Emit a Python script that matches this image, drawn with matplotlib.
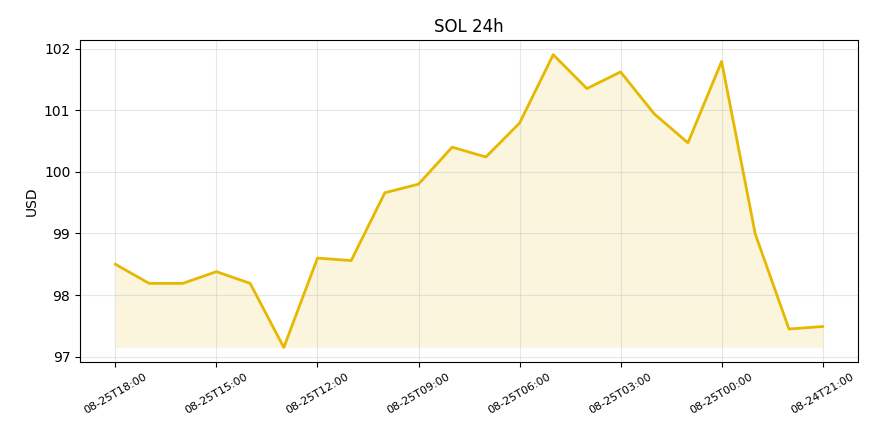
import matplotlib.pyplot as plt

# hourly timestamps, newest first
times = ['08-25T18:00', '08-25T17:00', '08-25T16:00', '08-25T15:00', '08-25T14:00',
         '08-25T13:00', '08-25T12:00', '08-25T11:00', '08-25T10:00', '08-25T09:00',
         '08-25T08:00', '08-25T07:00', '08-25T06:00', '08-25T05:00', '08-25T04:00',
         '08-25T03:00', '08-25T02:00', '08-25T01:00', '08-25T00:00', '08-24T23:00',
         '08-24T22:00', '08-24T21:00']
prices = [98.50, 98.19, 98.19, 98.38, 98.19, 97.15, 98.60, 98.56, 99.66, 99.80,
          100.40, 100.24, 100.79, 101.90, 101.35, 101.62, 100.94, 100.47, 101.79,
          98.99, 97.45, 97.49]

line_color = '#E6B800'

fig, ax = plt.subplots(figsize=(8.8, 4.4), dpi=100)
fig.subplots_adjust(left=0.091, right=0.975, top=0.909, bottom=0.177)

x = list(range(len(times)))
ax.plot(x, prices, color=line_color, linewidth=2)
ax.fill_between(x, prices, min(prices), color=line_color, alpha=0.13, linewidth=0)

ax.set_xticks(x[::3])
ax.set_xticklabels(times[::3], rotation=30, fontsize=8)
ax.set_title('SOL 24h')
ax.set_ylabel('USD')
ax.grid(True, alpha=0.3)

plt.savefig('out.png')
